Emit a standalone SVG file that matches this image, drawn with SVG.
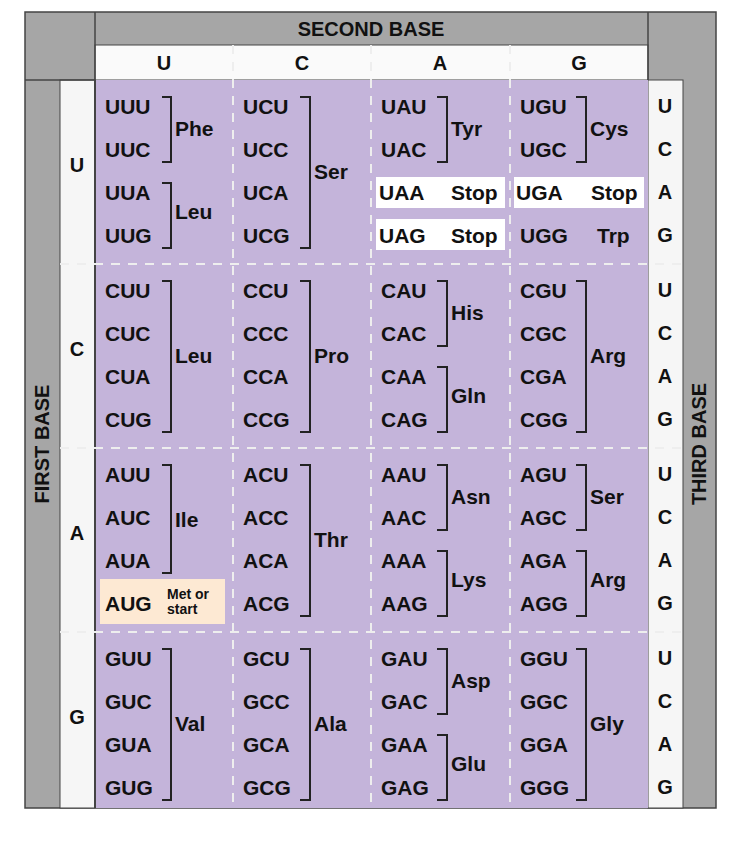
<svg xmlns="http://www.w3.org/2000/svg" width="752" height="849" viewBox="0 0 752 849">
<style>
text{font-family:"Liberation Sans",Arial,sans-serif;font-weight:bold;fill:#111}
.c{font-size:21px}
.h{font-size:20px;text-anchor:middle}
.br{fill:none;stroke:#222;stroke-width:2}
.d{stroke:#eee;stroke-width:2;stroke-dasharray:9,8}
.s{font-size:14px}
</style>
<rect width="752" height="849" fill="#fff"/>
<g id="frame">
<rect x="25" y="12" width="691" height="796" fill="#a6a6a6" stroke="#444" stroke-width="1.5"/>
<rect x="95" y="45" width="553" height="35" fill="#fafafa" stroke="#444"/>
<rect x="60" y="80" width="35" height="728" fill="#f6f6f6" stroke="#444"/>
<rect x="648" y="80" width="35" height="728" fill="#f6f6f6" stroke="#444"/>
<rect x="95" y="80" width="553" height="728" fill="#c4b4da"/>
<line x1="95" y1="12" x2="95" y2="80" stroke="#444" stroke-width="1.5"/>
<line x1="648" y1="12" x2="648" y2="80" stroke="#444" stroke-width="1.5"/>
<line x1="25" y1="80" x2="95" y2="80" stroke="#444" stroke-width="1.5"/>
<line x1="95" y1="80" x2="95" y2="808" stroke="#444" stroke-width="2"/>
<text class="h" x="371" y="36">SECOND BASE</text>
<text class="h" x="164" y="70">U</text><text class="h" x="302" y="70">C</text><text class="h" x="440" y="70">A</text><text class="h" x="579" y="70">G</text>
<text class="h" transform="translate(49 444) rotate(-90)">FIRST BASE</text>
<text class="h" transform="translate(706 444) rotate(-90)">THIRD BASE</text>
</g>
<g id="dividers">
<line class="d" x1="233" y1="45" x2="233" y2="808"/><line class="d" x1="371" y1="45" x2="371" y2="808"/><line class="d" x1="510" y1="45" x2="510" y2="808"/>
<line class="d" x1="60" y1="264" x2="683" y2="264"/><line class="d" x1="60" y1="448" x2="683" y2="448"/><line class="d" x1="60" y1="632" x2="683" y2="632"/>
</g>
<g id="first">
<text class="h" x="77" y="172">U</text><text class="h" x="77" y="356">C</text><text class="h" x="77" y="540">A</text><text class="h" x="77" y="724">G</text>
</g>
<g id="third">
<text class="h" x="665" y="113">U</text><text class="h" x="665" y="156">C</text><text class="h" x="665" y="199">A</text><text class="h" x="665" y="242">G</text>
<text class="h" x="665" y="297">U</text><text class="h" x="665" y="340">C</text><text class="h" x="665" y="383">A</text><text class="h" x="665" y="426">G</text>
<text class="h" x="665" y="481">U</text><text class="h" x="665" y="524">C</text><text class="h" x="665" y="567">A</text><text class="h" x="665" y="610">G</text>
<text class="h" x="665" y="665">U</text><text class="h" x="665" y="708">C</text><text class="h" x="665" y="751">A</text><text class="h" x="665" y="794">G</text>
</g>
<g id="boxes">
<rect x="376" y="177" width="129" height="31" fill="#fff"/><rect x="514" y="177" width="130" height="31" fill="#fff"/>
<rect x="376" y="219" width="129" height="31" fill="#fff"/>
<rect x="100" y="579" width="125" height="45" fill="#fde9d3"/>
</g>
<g id="rowU">
<text class="c" x="105" y="114">UUU</text><text class="c" x="105" y="157">UUC</text><text class="c" x="105" y="200">UUA</text><text class="c" x="105" y="243">UUG</text>
<path class="br" d="M162,97H171V162H162M162,183H171V248H162"/><text class="c" x="175" y="136">Phe</text><text class="c" x="175" y="219">Leu</text>
<text class="c" x="243" y="114">UCU</text><text class="c" x="243" y="157">UCC</text><text class="c" x="243" y="200">UCA</text><text class="c" x="243" y="243">UCG</text>
<path class="br" d="M300,97H310V248H300"/><text class="c" x="314" y="179">Ser</text>
<text class="c" x="381" y="114">UAU</text><text class="c" x="381" y="157">UAC</text>
<path class="br" d="M437,97H447V162H437"/><text class="c" x="451" y="136">Tyr</text>
<text class="c" x="379" y="200">UAA</text><text class="c" x="451" y="200">Stop</text>
<text class="c" x="379" y="243">UAG</text><text class="c" x="451" y="243">Stop</text>
<text class="c" x="520" y="114">UGU</text><text class="c" x="520" y="157">UGC</text>
<path class="br" d="M576,97H586V162H576"/><text class="c" x="590" y="136">Cys</text>
<text class="c" x="516" y="200">UGA</text><text class="c" x="591" y="200">Stop</text>
<text class="c" x="520" y="243">UGG</text><text class="c" x="597" y="243">Trp</text>
</g>
<g id="rowC">
<text class="c" x="105" y="298">CUU</text><text class="c" x="105" y="341">CUC</text><text class="c" x="105" y="384">CUA</text><text class="c" x="105" y="427">CUG</text>
<path class="br" d="M162,281H171V432H162"/><text class="c" x="175" y="363">Leu</text>
<text class="c" x="243" y="298">CCU</text><text class="c" x="243" y="341">CCC</text><text class="c" x="243" y="384">CCA</text><text class="c" x="243" y="427">CCG</text>
<path class="br" d="M300,281H310V432H300"/><text class="c" x="314" y="363">Pro</text>
<text class="c" x="381" y="298">CAU</text><text class="c" x="381" y="341">CAC</text><text class="c" x="381" y="384">CAA</text><text class="c" x="381" y="427">CAG</text>
<path class="br" d="M437,281H447V346H437M437,367H447V432H437"/><text class="c" x="451" y="320">His</text><text class="c" x="451" y="403">Gln</text>
<text class="c" x="520" y="298">CGU</text><text class="c" x="520" y="341">CGC</text><text class="c" x="520" y="384">CGA</text><text class="c" x="520" y="427">CGG</text>
<path class="br" d="M576,281H586V432H576"/><text class="c" x="590" y="363">Arg</text>
</g>
<g id="rowA">
<text class="c" x="105" y="482">AUU</text><text class="c" x="105" y="525">AUC</text><text class="c" x="105" y="568">AUA</text>
<path class="br" d="M162,465H171V573H162"/><text class="c" x="175" y="527">Ile</text>
<text class="c" x="105" y="611">AUG</text><text class="s" x="167" y="599">Met or</text><text class="s" x="167" y="614">start</text>
<text class="c" x="243" y="482">ACU</text><text class="c" x="243" y="525">ACC</text><text class="c" x="243" y="568">ACA</text><text class="c" x="243" y="611">ACG</text>
<path class="br" d="M300,465H310V616H300"/><text class="c" x="314" y="547">Thr</text>
<text class="c" x="381" y="482">AAU</text><text class="c" x="381" y="525">AAC</text><text class="c" x="381" y="568">AAA</text><text class="c" x="381" y="611">AAG</text>
<path class="br" d="M437,465H447V530H437M437,551H447V616H437"/><text class="c" x="451" y="504">Asn</text><text class="c" x="451" y="587">Lys</text>
<text class="c" x="520" y="482">AGU</text><text class="c" x="520" y="525">AGC</text><text class="c" x="520" y="568">AGA</text><text class="c" x="520" y="611">AGG</text>
<path class="br" d="M576,465H586V530H576M576,551H586V616H576"/><text class="c" x="590" y="504">Ser</text><text class="c" x="590" y="587">Arg</text>
</g>
<g id="rowG">
<text class="c" x="105" y="666">GUU</text><text class="c" x="105" y="709">GUC</text><text class="c" x="105" y="752">GUA</text><text class="c" x="105" y="795">GUG</text>
<path class="br" d="M162,649H171V800H162"/><text class="c" x="175" y="731">Val</text>
<text class="c" x="243" y="666">GCU</text><text class="c" x="243" y="709">GCC</text><text class="c" x="243" y="752">GCA</text><text class="c" x="243" y="795">GCG</text>
<path class="br" d="M300,649H310V800H300"/><text class="c" x="314" y="731">Ala</text>
<text class="c" x="381" y="666">GAU</text><text class="c" x="381" y="709">GAC</text><text class="c" x="381" y="752">GAA</text><text class="c" x="381" y="795">GAG</text>
<path class="br" d="M437,649H447V714H437M437,735H447V800H437"/><text class="c" x="451" y="688">Asp</text><text class="c" x="451" y="771">Glu</text>
<text class="c" x="520" y="666">GGU</text><text class="c" x="520" y="709">GGC</text><text class="c" x="520" y="752">GGA</text><text class="c" x="520" y="795">GGG</text>
<path class="br" d="M576,649H586V800H576"/><text class="c" x="590" y="731">Gly</text>
</g>
</svg>
